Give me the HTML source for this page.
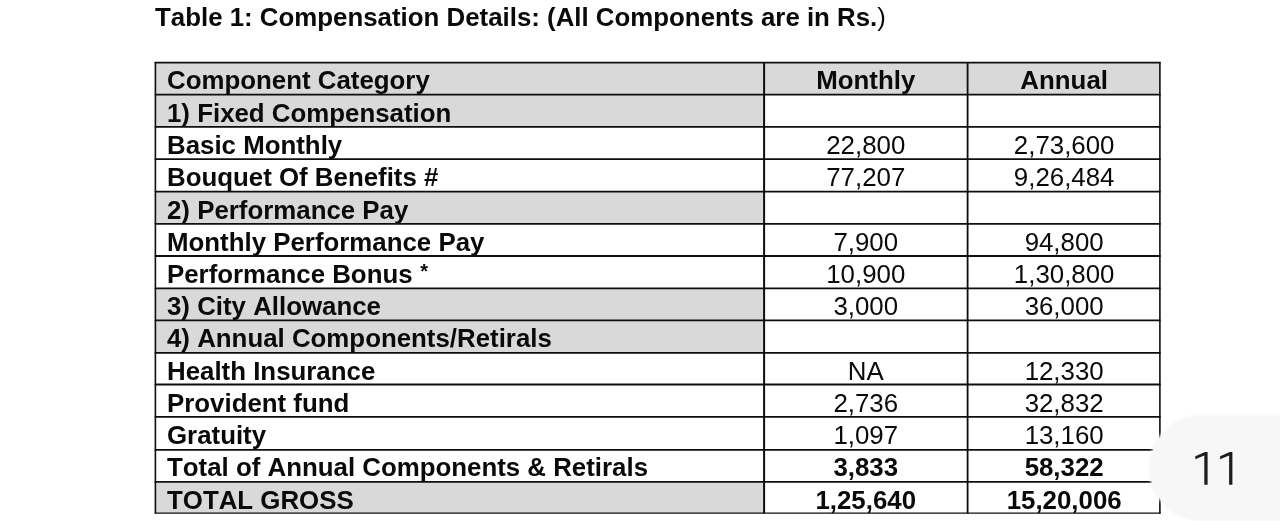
<!DOCTYPE html>
<html><head><meta charset="utf-8"><title>Table</title>
<style>
html,body{margin:0;padding:0;background:#fff;}
body{width:1280px;height:521px;position:relative;overflow:hidden;font-family:"Liberation Sans",sans-serif;color:#0a0a0a;}
.t{position:absolute;white-space:nowrap;line-height:1;will-change:transform;font-kerning:none;font-variant-ligatures:none;}
.b{font-weight:bold;}
.g{position:absolute;background:#d9d9d9;}
.h{position:absolute;background:#1a1a1a;height:2px;}
.v{position:absolute;background:#1a1a1a;width:2px;}
.c{text-align:center;}
</style></head><body>

<div class="t b" style="left:155px;top:5px;font-size:25.85px;">Table 1: Compensation Details: (All Components are in Rs.<span style="font-weight:normal">)</span></div>
<div class="g" style="left:155.4px;top:62.7px;width:608.7px;height:32.0px"></div>
<div class="g" style="left:764.1px;top:62.7px;width:395.8px;height:32.0px"></div>
<div class="g" style="left:155.4px;top:94.7px;width:608.7px;height:32.2px"></div>
<div class="g" style="left:155.4px;top:191.7px;width:608.7px;height:32.1px"></div>
<div class="g" style="left:155.4px;top:288.3px;width:608.7px;height:32.0px"></div>
<div class="g" style="left:155.4px;top:320.3px;width:608.7px;height:32.5px"></div>
<div class="g" style="left:155.4px;top:481.8px;width:608.7px;height:31.3px"></div>
<div class="t b" style="left:167px;top:67.9px;font-size:25.85px">Component Category</div>
<div class="t c b" style="left:764.1px;width:203.5px;top:67.9px;font-size:25.85px">Monthly</div>
<div class="t c b" style="left:967.6px;width:192.3px;top:67.9px;font-size:25.85px">Annual</div>
<div class="t b" style="left:167px;top:100.9px;font-size:25.85px">1) Fixed Compensation</div>
<div class="t b" style="left:167px;top:133.1px;font-size:25.85px">Basic Monthly</div>
<div class="t c" style="left:764.1px;width:203.5px;top:133.1px;font-size:25.85px">22,800</div>
<div class="t c" style="left:967.6px;width:192.3px;top:133.1px;font-size:25.85px">2,73,600</div>
<div class="t b" style="left:167px;top:165.3px;font-size:25.85px">Bouquet Of Benefits #</div>
<div class="t c" style="left:764.1px;width:203.5px;top:165.3px;font-size:25.85px">77,207</div>
<div class="t c" style="left:967.6px;width:192.3px;top:165.3px;font-size:25.85px">9,26,484</div>
<div class="t b" style="left:167px;top:197.9px;font-size:25.85px">2) Performance Pay</div>
<div class="t b" style="left:167px;top:230.0px;font-size:25.85px">Monthly Performance Pay</div>
<div class="t c" style="left:764.1px;width:203.5px;top:230.0px;font-size:25.85px">7,900</div>
<div class="t c" style="left:967.6px;width:192.3px;top:230.0px;font-size:25.85px">94,800</div>
<div class="t b" style="left:167px;top:262.2px;font-size:25.85px">Performance Bonus <span style="font-size:20px;position:relative;top:-5px;margin-left:0.6px">*</span></div>
<div class="t c" style="left:764.1px;width:203.5px;top:262.2px;font-size:25.85px">10,900</div>
<div class="t c" style="left:967.6px;width:192.3px;top:262.2px;font-size:25.85px">1,30,800</div>
<div class="t b" style="left:167px;top:293.5px;font-size:25.85px">3) City Allowance</div>
<div class="t c" style="left:764.1px;width:203.5px;top:293.5px;font-size:25.85px">3,000</div>
<div class="t c" style="left:967.6px;width:192.3px;top:293.5px;font-size:25.85px">36,000</div>
<div class="t b" style="left:167px;top:325.5px;font-size:25.85px">4) Annual Components/Retirals</div>
<div class="t b" style="left:167px;top:359.0px;font-size:25.85px">Health Insurance</div>
<div class="t c" style="left:764.1px;width:203.5px;top:359.0px;font-size:25.85px">NA</div>
<div class="t c" style="left:967.6px;width:192.3px;top:359.0px;font-size:25.85px">12,330</div>
<div class="t b" style="left:167px;top:390.7px;font-size:25.85px">Provident fund</div>
<div class="t c" style="left:764.1px;width:203.5px;top:390.7px;font-size:25.85px">2,736</div>
<div class="t c" style="left:967.6px;width:192.3px;top:390.7px;font-size:25.85px">32,832</div>
<div class="t b" style="left:167px;top:423.1px;font-size:25.85px">Gratuity</div>
<div class="t c" style="left:764.1px;width:203.5px;top:423.1px;font-size:25.85px">1,097</div>
<div class="t c" style="left:967.6px;width:192.3px;top:423.1px;font-size:25.85px">13,160</div>
<div class="t b" style="left:167px;top:455.1px;font-size:25.85px">Total of Annual Components &amp; Retirals</div>
<div class="t c b" style="left:764.1px;width:203.5px;top:455.1px;font-size:25.85px">3,833</div>
<div class="t c b" style="left:967.6px;width:192.3px;top:455.1px;font-size:25.85px">58,322</div>
<div class="t b" style="left:167px;top:488.0px;font-size:25.85px">TOTAL GROSS</div>
<div class="t c b" style="left:764.1px;width:203.5px;top:488.0px;font-size:25.85px">1,25,640</div>
<div class="t c b" style="left:967.6px;width:192.3px;top:488.0px;font-size:25.85px">15,20,006</div>
<svg style="position:absolute;left:0;top:0" width="1280" height="521" viewBox="0 0 1280 521"><line x1="154.7" x2="1160.6" y1="62.70" y2="62.70" stroke="#0e0e0e" stroke-width="1.8"/><line x1="154.7" x2="1160.6" y1="94.70" y2="94.70" stroke="#0e0e0e" stroke-width="1.8"/><line x1="154.7" x2="1160.6" y1="126.90" y2="126.90" stroke="#0e0e0e" stroke-width="1.8"/><line x1="154.7" x2="1160.6" y1="159.10" y2="159.10" stroke="#0e0e0e" stroke-width="1.8"/><line x1="154.7" x2="1160.6" y1="191.70" y2="191.70" stroke="#0e0e0e" stroke-width="1.8"/><line x1="154.7" x2="1160.6" y1="223.80" y2="223.80" stroke="#0e0e0e" stroke-width="1.8"/><line x1="154.7" x2="1160.6" y1="256.00" y2="256.00" stroke="#0e0e0e" stroke-width="1.8"/><line x1="154.7" x2="1160.6" y1="288.30" y2="288.30" stroke="#0e0e0e" stroke-width="1.8"/><line x1="154.7" x2="1160.6" y1="320.30" y2="320.30" stroke="#0e0e0e" stroke-width="1.8"/><line x1="154.7" x2="1160.6" y1="352.80" y2="352.80" stroke="#0e0e0e" stroke-width="1.8"/><line x1="154.7" x2="1160.6" y1="384.50" y2="384.50" stroke="#0e0e0e" stroke-width="1.8"/><line x1="154.7" x2="1160.6" y1="416.90" y2="416.90" stroke="#0e0e0e" stroke-width="1.8"/><line x1="154.7" x2="1160.6" y1="449.90" y2="449.90" stroke="#0e0e0e" stroke-width="1.8"/><line x1="154.7" x2="1160.6" y1="481.80" y2="481.80" stroke="#0e0e0e" stroke-width="1.8"/><line x1="154.7" x2="1160.6" y1="513.10" y2="513.10" stroke="#0e0e0e" stroke-width="1.3"/><line x1="155.4" x2="155.4" y1="62.00" y2="513.60" stroke="#0e0e0e" stroke-width="1.6"/><line x1="764.1" x2="764.1" y1="62.00" y2="513.60" stroke="#0e0e0e" stroke-width="2.0"/><line x1="967.6" x2="967.6" y1="62.00" y2="513.60" stroke="#0e0e0e" stroke-width="1.8"/><line x1="1159.9" x2="1159.9" y1="62.00" y2="513.60" stroke="#0e0e0e" stroke-width="1.6"/></svg>
<div style="position:absolute;left:1150.3px;top:415.6px;width:200px;height:104px;border-radius:52px;background:#f7f7f7;box-shadow:0 0 3px 1px #f7f7f7"></div>
<svg style="position:absolute;left:0;top:0" width="1280" height="521" viewBox="0 0 1280 521"><polygon fill="#1e1e1e" points="1207.6,452 1207.6,484.8 1204.3,484.8 1204.3,455.6 1195.3,459.3 1195.3,456.2 1205.0,452"/><polygon fill="#1e1e1e" points="1232.4,452 1232.4,484.8 1229.1,484.8 1229.1,455.6 1220.1,459.3 1220.1,456.2 1229.8,452"/></svg>
</body></html>
